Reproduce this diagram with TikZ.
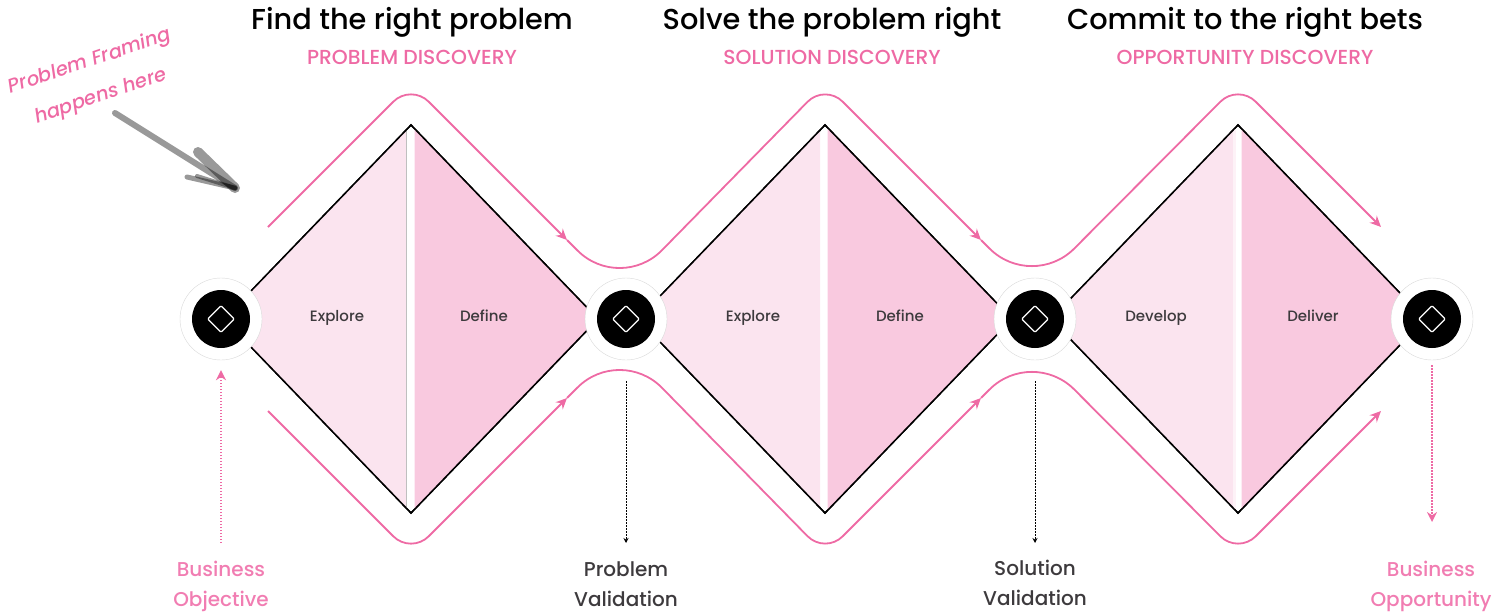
\documentclass[tikz,border=0pt]{standalone}
\usepackage{fontspec}
\setmainfont{Poppins}
\newfontfamily\medfont{Poppins Medium}
\usetikzlibrary{shapes.geometric, arrows.meta}
\definecolor{flowpink}{HTML}{EE6AA4}
\definecolor{labelpink}{HTML}{F17DB2}
\definecolor{lightside}{HTML}{FBE4EF}
\definecolor{darkside}{HTML}{F9C9DF}
\definecolor{inktext}{HTML}{3D3A3D}
\tikzstyle{flow} = [line width=1.8pt, draw=flowpink, -{Stealth[length=11pt, width=10pt, flowpink]}]
\tikzstyle{pinkdots} = [line width=2pt, draw=flowpink, dash pattern=on 1.5pt off 1.5pt, -{Stealth[length=10pt, width=10pt, flowpink]}]
\tikzstyle{blackdots} = [line width=1pt, draw=black, dash pattern=on 1.5pt off 1.5pt, -{Stealth[length=5pt, width=5pt]}]
\tikzstyle{pencil} = [line cap=round, draw=black, opacity=0.4]
\tikzstyle{bigdiamond} = [diamond, aspect=1, minimum width=374pt, minimum height=388pt, inner sep=0pt, outer sep=0pt, draw=black, line width=1.5pt, fill=none]
\tikzstyle{lightfill} = [fill=lightside]
\tikzstyle{darkfill} = [fill=darkside]
\tikzstyle{seam} = [draw=black!25, line width=0.6pt]
\tikzstyle{paleseam} = [draw=lightside!50, line width=3pt]
\tikzstyle{hubring} = [circle, minimum size=82pt, inner sep=0pt, draw=black!15, line width=0.4pt, fill=white]
\tikzstyle{hubdot} = [circle, minimum size=58pt, inner sep=0pt, fill=black]
\tikzstyle{hubmark} = [diamond, aspect=1, minimum size=27pt, inner sep=0pt, draw=white, line width=1.3pt, rounded corners=1pt]
\tikzstyle{headline} = [font=\medfont\fontsize{28.8}{32}\selectfont, text=black]
\tikzstyle{subline} = [font=\medfont\fontsize{20.3}{24}\selectfont, text=flowpink]
\tikzstyle{sidename} = [anchor=base, font=\medfont\fontsize{15}{18}\selectfont, text=inktext]
\tikzstyle{pinklabel} = [align=center, font=\medfont\fontsize{20}{30}\selectfont, text=labelpink]
\tikzstyle{darklabel} = [align=center, font=\medfont\fontsize{20}{30}\selectfont, text=inktext]
\tikzstyle{scribble} = [font=\medfont\itshape\fontsize{19.5}{25}\selectfont, text=flowpink, rotate=18.5]
\begin{document}
\begin{tikzpicture}[x=1pt, y=-1pt]
	\useasboundingbox (0,0) rectangle (1500,616);
	\node (dmda) [bigdiamond] at (411,319) {};
	\node (dmdb) [bigdiamond] at (825,319) {};
	\node (dmdc) [bigdiamond] at (1238,319) {};
	% diamond halves
	\fill [lightfill] (dmda.west) -- (406,130) -- (406,508) -- cycle;
	\fill [darkfill] (414.5,128.5) -- (dmda.east) -- (414.5,509.5) -- cycle;
	\fill [lightfill] (dmdb.west) -- (820,130) -- (820,508) -- cycle;
	\fill [darkfill] (827.5,128) -- (dmdb.east) -- (827.5,510) -- cycle;
	\fill [lightfill] (dmdc.west) -- (1233,130) -- (1233,508) -- cycle;
	\fill [darkfill] (1241.5,128.5) -- (dmdc.east) -- (1241.5,509.5) -- cycle;
	\draw [seam] (406.5,130) -- (406.5,508);
	\draw [paleseam] (1234.5,129) -- (1234.5,509);
	\node (dmdaline) [bigdiamond] at (dmda) {};
	\node (dmdbline) [bigdiamond] at (dmdb) {};
	\node (dmdcline) [bigdiamond] at (dmdc) {};
	% hubs
	\node (huba) [hubring] at (221,319) {};
	\node (hubb) [hubring, right of=huba, node distance=405pt] {};
	\node (hubc) [hubring, right of=hubb, node distance=409pt] {};
	\node (hubd) [hubring, right of=hubc, node distance=397pt] {};
	\node (hubadot) [hubdot] at (huba) {};
	\node (hubbdot) [hubdot] at (hubb) {};
	\node (hubcdot) [hubdot] at (hubc) {};
	\node (hubddot) [hubdot] at (hubd) {};
	\node (hubamark) [hubmark] at (huba) {};
	\node (hubbmark) [hubmark] at (hubb) {};
	\node (hubcmark) [hubmark] at (hubc) {};
	\node (hubdmark) [hubmark] at (hubd) {};
	% pink route, top
	\coordinate (topstart) at (268,227);
	\coordinate (topcresta) at (411,84);
	\coordinate (toparrowa) at (567,240);
	\coordinate (topvalleya) at (620,293);
	\coordinate (topcrestb) at (825,84);
	\coordinate (toparrowb) at (981,240);
	\coordinate (topvalleyb) at (1032,291);
	\coordinate (topcrestc) at (1238,84);
	\coordinate (toparrowc) at (1381,227);
	\draw [flow, rounded corners=25pt] (topstart) -- (topcresta) -- (toparrowa);
	\draw [flow, rounded corners=60pt] (toparrowa) -- (topvalleya) [rounded corners=25pt] -- (topcrestb) -- (toparrowb);
	\draw [flow, rounded corners=60pt] (toparrowb) -- (topvalleyb) [rounded corners=25pt] -- (topcrestc) -- (toparrowc);
	% pink route, bottom
	\coordinate (lowstart) at (268,411);
	\coordinate (lowcresta) at (411,554);
	\coordinate (lowarrowa) at (567,398);
	\coordinate (lowvalleya) at (620,345);
	\coordinate (lowcrestb) at (825,554);
	\coordinate (lowarrowb) at (981,398);
	\coordinate (lowvalleyb) at (1032,347);
	\coordinate (lowcrestc) at (1238,554);
	\coordinate (lowarrowc) at (1381,411);
	\draw [flow, rounded corners=25pt] (lowstart) -- (lowcresta) -- (lowarrowa);
	\draw [flow, rounded corners=60pt] (lowarrowa) -- (lowvalleya) [rounded corners=25pt] -- (lowcrestb) -- (lowarrowb);
	\draw [flow, rounded corners=60pt] (lowarrowb) -- (lowvalleyb) [rounded corners=25pt] -- (lowcrestc) -- (lowarrowc);
	% titles
	\node (finda) [headline] at (412,22) {Find the right problem};
	\node (solveb) [headline] at (832,22) {Solve the problem right};
	\node (betsc) [headline] at (1245,22) {Commit to the right bets};
	\node (subfinda) [subline] at (412,57) {PROBLEM DISCOVERY};
	\node (subsolveb) [subline] at (832,57) {SOLUTION DISCOVERY};
	\node (subbetsc) [subline] at (1245,57) {OPPORTUNITY DISCOVERY};
	% side names
	\node (explorea) [sidename] at (337,321) {Explore};
	\node (definea) [sidename] at (484,321) {Define};
	\node (exploreb) [sidename] at (753,321) {Explore};
	\node (defineb) [sidename] at (900,321) {Define};
	\node (developc) [sidename] at (1156,321) {Develop};
	\node (deliverc) [sidename] at (1313,321) {Deliver};
	% outcome labels
	\node (bizobj) [pinklabel] at (221,586) {Business\\Objective};
	\node (probval) [darklabel] at (626,584) {Problem\\Validation};
	\node (solval) [darklabel] at (1035,583) {Solution\\Validation};
	\node (bizopp) [pinklabel] at (1431,586) {Business\\Opportunity};
	\coordinate (bizobjfoot) at (221,543);
	\coordinate (probfoot) at (626,543);
	\coordinate (solfoot) at (1035,543);
	\coordinate (oppfoot) at (1432,522);
	\draw [pinkdots, shorten >=10pt] (bizobjfoot) -- (huba);
	\draw [blackdots, shorten <=21pt] (hubb) -- (probfoot);
	\draw [blackdots, shorten <=21pt] (hubc) -- (solfoot);
	\draw [pinkdots, shorten <=5pt] (hubd) -- (oppfoot);
	% scribble
	\node (noteone) [scribble] at (90,62) {Problem Framing};
	\node (notetwo) [scribble] at (101,97) {happens here};
	\coordinate (penfoot) at (115,113);
	\coordinate (pentip) at (235,188);
	\coordinate (penbarba) at (198,152);
	\coordinate (penbarbb) at (187,177);
	\coordinate (penbarbc) at (197,176);
	\draw [pencil, line width=6pt] (penfoot) -- (pentip);
	\draw [pencil, line width=10pt] (penbarba) -- (pentip);
	\draw [pencil, line width=5pt] (penbarbb) -- (pentip);
	\draw [pencil, line width=4pt] (penbarbc) -- (pentip);
\end{tikzpicture}
\end{document}
